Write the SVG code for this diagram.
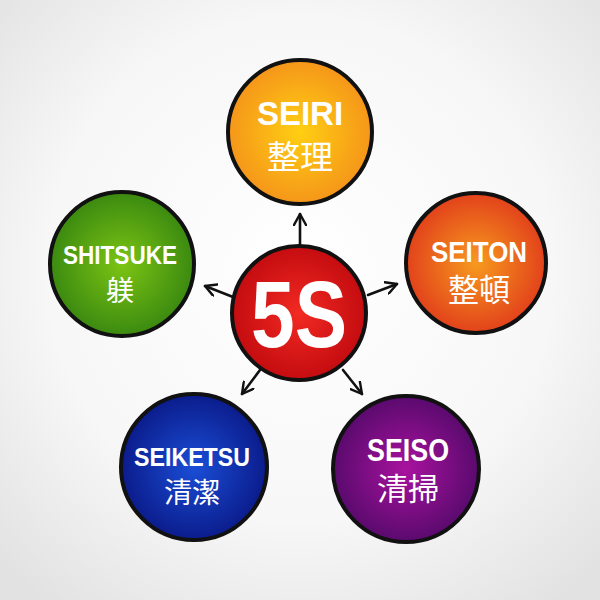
<svg xmlns="http://www.w3.org/2000/svg" width="600" height="600" viewBox="0 0 600 600">
<defs>
<radialGradient id="bg" cx="50%" cy="45%" r="70%">
<stop offset="0" stop-color="#ffffff"/><stop offset="0.6" stop-color="#f7f7f7"/><stop offset="1" stop-color="#e2e2e2"/>
</radialGradient>
<radialGradient id="gRed" cx="50%" cy="50%" r="50%"><stop offset="0" stop-color="#f22a22"/><stop offset="1" stop-color="#c40c10"/></radialGradient>
<radialGradient id="gOrange" cx="50%" cy="50%" r="50%"><stop offset="0" stop-color="#ffcf12"/><stop offset="1" stop-color="#f5961a"/></radialGradient>
<radialGradient id="gSeiton" cx="50%" cy="50%" r="50%"><stop offset="0" stop-color="#f79a1e"/><stop offset="1" stop-color="#e2421b"/></radialGradient>
<radialGradient id="gPurple" cx="50%" cy="50%" r="50%"><stop offset="0" stop-color="#a8129e"/><stop offset="1" stop-color="#5a0a6e"/></radialGradient>
<radialGradient id="gBlue" cx="50%" cy="50%" r="50%"><stop offset="0" stop-color="#1a4ed6"/><stop offset="1" stop-color="#0b1c8c"/></radialGradient>
<radialGradient id="gGreen" cx="50%" cy="50%" r="50%"><stop offset="0" stop-color="#7cc414"/><stop offset="1" stop-color="#3b8a10"/></radialGradient>
<marker id="arr" viewBox="0 0 14 14" refX="12" refY="7" markerWidth="14" markerHeight="14" markerUnits="userSpaceOnUse" orient="auto">
<path d="M1,1 L12,7 L1,13" fill="none" stroke="#111" stroke-width="2.4" stroke-linecap="round" stroke-linejoin="round"/>
</marker>
</defs>
<style>
.c{stroke:#111;stroke-width:4}
.t{font-family:"Liberation Sans",Arial,sans-serif;font-weight:bold;fill:#fff;text-anchor:middle}
.k{font-family:"Noto Sans CJK JP","Noto Sans CJK SC",sans-serif;font-weight:normal;fill:#fff;text-anchor:middle}
.a{stroke:#111;stroke-width:2.6;fill:none;stroke-linecap:round;marker-end:url(#arr)}
</style>
<rect width="600" height="600" fill="url(#bg)"/>
<g id="connectors">
<line class="a" x1="300" y1="244" x2="300" y2="214"/>
<line class="a" x1="233" y1="297" x2="205" y2="286"/>
<line class="a" x1="368" y1="295" x2="397" y2="284"/>
<line class="a" x1="260" y1="370" x2="242" y2="394"/>
<line class="a" x1="343" y1="370" x2="362" y2="394"/>
</g>
<g id="center">
<circle class="c" cx="299" cy="313" r="67" fill="url(#gRed)"/>
<text class="t" x="299" y="347" font-size="94" textLength="96" lengthAdjust="spacingAndGlyphs">5S</text>
</g>
<g id="seiri">
<circle class="c" cx="300" cy="132" r="72" fill="url(#gOrange)"/>
<text class="t" x="300" y="125" font-size="33">SEIRI</text>
<text class="k" x="300" y="169" font-size="33">整理</text>
</g>
<g id="seiton">
<circle class="c" cx="476" cy="263" r="70" fill="url(#gSeiton)"/>
<text class="t" x="479" y="262" font-size="30" textLength="96" lengthAdjust="spacingAndGlyphs">SEITON</text>
<text class="k" x="479" y="301" font-size="31">整頓</text>
</g>
<g id="seiso">
<circle class="c" cx="406" cy="469" r="73" fill="url(#gPurple)"/>
<text class="t" x="408" y="461" font-size="31" textLength="82" lengthAdjust="spacingAndGlyphs">SEISO</text>
<text class="k" x="408" y="500" font-size="31">清掃</text>
</g>
<g id="seiketsu">
<circle class="c" cx="194" cy="467" r="73" fill="url(#gBlue)"/>
<text class="t" x="192" y="466" font-size="25" textLength="116" lengthAdjust="spacingAndGlyphs">SEIKETSU</text>
<text class="k" x="192" y="503" font-size="28">清潔</text>
</g>
<g id="shitsuke">
<circle class="c" cx="122" cy="264" r="72" fill="url(#gGreen)"/>
<text class="t" x="120" y="264" font-size="25" textLength="114" lengthAdjust="spacingAndGlyphs">SHITSUKE</text>
<text class="k" x="120" y="301" font-size="28">躾</text>
</g>
</svg>
